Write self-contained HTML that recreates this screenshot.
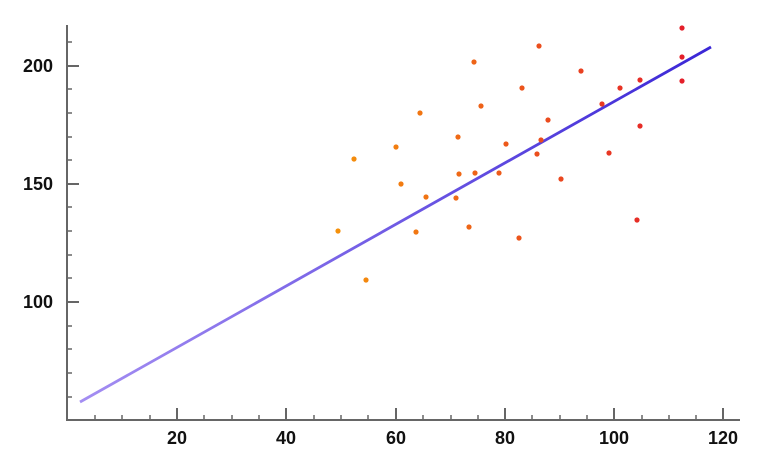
<!DOCTYPE html>
<html><head><style>body{margin:0;background:#fff}svg{display:block}</style></head><body>
<svg width="768" height="465" xmlns="http://www.w3.org/2000/svg" font-family="Liberation Sans, sans-serif" font-size="18" font-weight="bold">
<defs>
<linearGradient id="lg" x1="80" y1="0" x2="711" y2="0" gradientUnits="userSpaceOnUse"><stop offset="0" stop-color="#a48ef2"/><stop offset="1" stop-color="#3a26d6"/></linearGradient>
<linearGradient id="dg" x1="330" y1="0" x2="690" y2="0" gradientUnits="userSpaceOnUse"><stop offset="0" stop-color="#f5930a"/><stop offset="1" stop-color="#e41c2a"/></linearGradient>
</defs>
<g stroke="#666" stroke-width="2" fill="none">
<path d="M67,25V420H740"/>
<path d="M67,66h12M67,184h12M67,302h12M177,420v-12M286,420v-12M396,420v-12M505,420v-12M614,420v-12M723,420v-12" />
</g>
<g stroke="#666" stroke-width="1.5">
<path d="M95,420v-5M122,420v-5M150,420v-5M204,420v-5M232,420v-5M259,420v-5M314,420v-5M341,420v-5M368,420v-5M423,420v-5M451,420v-5M478,420v-5M532,420v-5M560,420v-5M587,420v-5M642,420v-5M669,420v-5M696,420v-5"/>
<path d="M67,42h5M67,89h5M67,113h5M67,137h5M67,160h5M67,207h5M67,231h5M67,255h5M67,278h5M67,326h5M67,349h5M67,373h5M67,397h5"/>
</g>
<line x1="80" y1="402" x2="711" y2="47" stroke="url(#lg)" stroke-width="2.8"/>
<g fill="url(#dg)">
<circle cx="682" cy="28" r="2.6"/><circle cx="539" cy="46" r="2.6"/><circle cx="474" cy="62" r="2.6"/><circle cx="581" cy="71" r="2.6"/><circle cx="682" cy="57" r="2.6"/><circle cx="682" cy="81" r="2.6"/><circle cx="640" cy="80" r="2.6"/><circle cx="620" cy="88" r="2.6"/><circle cx="522" cy="88" r="2.6"/><circle cx="602" cy="104" r="2.6"/><circle cx="481" cy="106" r="2.6"/><circle cx="420" cy="113" r="2.6"/><circle cx="548" cy="120" r="2.6"/><circle cx="640" cy="126" r="2.6"/><circle cx="458" cy="137" r="2.6"/><circle cx="396" cy="147" r="2.6"/><circle cx="506" cy="144" r="2.6"/><circle cx="541" cy="140" r="2.6"/><circle cx="537" cy="154" r="2.6"/><circle cx="609" cy="153" r="2.6"/><circle cx="354" cy="159" r="2.6"/><circle cx="459" cy="174" r="2.6"/><circle cx="475" cy="173" r="2.6"/><circle cx="499" cy="173" r="2.6"/><circle cx="561" cy="179" r="2.6"/><circle cx="401" cy="184" r="2.6"/><circle cx="426" cy="197" r="2.6"/><circle cx="456" cy="198" r="2.6"/><circle cx="338" cy="231" r="2.6"/><circle cx="416" cy="232" r="2.6"/><circle cx="469" cy="227" r="2.6"/><circle cx="519" cy="238" r="2.6"/><circle cx="637" cy="220" r="2.6"/><circle cx="366" cy="280" r="2.6"/>
</g>
<g fill="#111" text-anchor="end">
<text x="53" y="72">200</text><text x="53" y="190">150</text><text x="53" y="308">100</text>
</g>
<g fill="#111" text-anchor="middle">
<text x="177" y="444">20</text><text x="286" y="444">40</text><text x="396" y="444">60</text><text x="505" y="444">80</text><text x="614" y="444">100</text><text x="723" y="444">120</text>
</g>
</svg>
</body></html>
